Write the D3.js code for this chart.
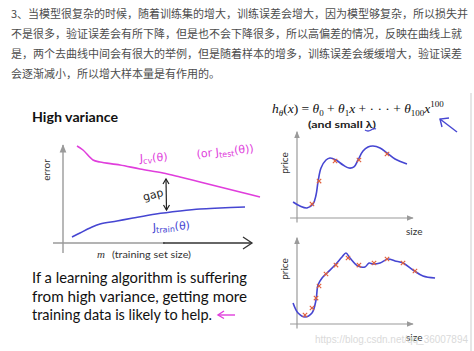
<!DOCTYPE html>
<html><head><meta charset="utf-8">
<script src="https://cdn.jsdelivr.net/npm/d3@7/dist/d3.min.js"></script>
<style>html,body{margin:0;padding:0;background:#fff;overflow:hidden}</style>
</head><body>
<script>
// ---------- data ----------
const paragraphLines = [
  "3、当模型很复杂的时候，随着训练集的增大，训练误差会增大，因为模型够复杂，所以损失并",
  "不是很多，验证误差会有所下降，但是也不会下降很多，所以高偏差的情况，反映在曲线上就",
  "是，两个去曲线中间会有很大的举例，但是随着样本的增多，训练误差会缓缓增大，验证误差",
  "会逐渐减小，所以增大样本量是有作用的。"
];
const slideTitle = "High variance";
const bodyLines = [
  "If a learning algorithm is suffering",
  "from high variance, getting more",
  "training data is likely to help."
];
// learning curves (m = training set size, error)
const cvM    = [7, 10, 15, 18.5, 28.5, 38.5, 50, 58.5, 68.5, 78.5, 88.5, 98.5];
const cvErr  = [97, 93, 83, 81, 78, 74, 70, 66, 61, 56, 51, 46];
const trainM   = [4.5, 8.5, 13.5, 18.5, 27, 35, 46.5, 58.5, 68.5, 78.5, 91];
const trainErr = [6, 10, 15, 19, 22, 25, 29, 32, 34, 35, 36];
const gapM = 51.5, gapTop = 64, gapBottom = 33;
// top-right overfit curve (size, price)
const fit1Size  = [-3.4, 2.6, 8.6, 13.8, 16.4, 18.1, 20.7, 25, 28.4, 33.6, 39.7, 44.8, 49.1, 52.6, 56.9, 61.2, 65.5, 71.6, 77.6, 84.5, 94.8];
const fit1Price = [18.2, 13.6, 11.4, 15.9, 26.1, 40.9, 56.8, 65.9, 68.2, 65.9, 60.2, 56.8, 58, 65.9, 76.1, 80.7, 81.8, 79.5, 73.9, 67, 61.4];
const pts1Size  = [12.9, 19, 32.8, 53.4, 77.6];
const pts1Price = [15.9, 42, 64.8, 65.9, 72.7];
// bottom-right curve with more data
const fit2Size  = [-3.4, 0.9, 6.9, 12.9, 16.4, 18.1, 21.6, 25.9, 32.8, 38.8, 42.2, 45.7, 52.6, 58.6, 62.1, 65.5, 71.6, 78.4, 84.5, 91.4, 100, 108.6, 119];
const fit2Price = [23.9, 12.5, 8, 12.5, 27.3, 44.3, 52.3, 58, 67, 76.1, 80.7, 75, 65.9, 64.8, 69.3, 68.2, 69.3, 73.9, 71.6, 69.3, 61.4, 54.5, 52.3];
const pts2Size  = [6.9, 12.9, 16.4, 19, 25, 33.6, 44, 53.4, 66.4, 77.6, 91.4, 101.7];
const pts2Price = [10.2, 18.2, 29.5, 43.2, 56.8, 67, 75, 67, 69.3, 73.9, 69.3, 60.2];
const watermark = "https://blog.csdn.net/qq_36007894";

// ---------- drawing ----------
const W = 474, H = 351;
const MAG = "#e03edc", BLUE = "#4646d2", RED = "#e0603c", AX = "#9a9a9a";
const svg = d3.select("body").append("svg").attr("width", W).attr("height", H);

const defs = svg.append("defs");
defs.append("marker").attr("id","tri").attr("viewBox","0 0 10 10").attr("refX",9).attr("refY",5)
  .attr("markerWidth",6).attr("markerHeight",6).attr("orient","auto-start-reverse")
  .append("path").attr("d","M0,1 L10,5 L0,9 Z").attr("fill",AX);

// paragraph
const para = svg.append("g").attr("font-family","'Noto Sans CJK SC'").attr("font-size",11).attr("fill","#4d4d4d");
paragraphLines.forEach((t,i)=>{
  para.append("text").attr("x",11).attr("y",18+i*20).text(t);
});

// slide right border
svg.append("line").attr("x1",471).attr("x2",471).attr("y1",93).attr("y2",H).attr("stroke","#d6d6d6").attr("stroke-width",1.2);

// title
svg.append("text").attr("x",32).attr("y",122).attr("font-family","Lato").attr("font-weight","bold")
  .attr("font-size",13.5).attr("fill","#111").attr("textLength",86).attr("lengthAdjust","spacingAndGlyphs").text(slideTitle);

// ---- left learning-curve chart ----
const xL = d3.scaleLinear().domain([0,100]).range([63,263]);
const yL = d3.scaleLinear().domain([0,100]).range([243,143]);
const gL = svg.append("g");
gL.append("line").attr("x1",xL(0)).attr("x2",xL(0)).attr("y1",yL(-10)).attr("y2",yL(98))
  .attr("stroke",AX).attr("stroke-width",1.4).attr("marker-end","url(#tri)");
gL.append("line").attr("x1",xL(-5)).attr("x2",xL(51)).attr("y1",yL(0)).attr("y2",yL(0))
  .attr("stroke",AX).attr("stroke-width",1.6);
gL.append("line").attr("x1",xL(50)).attr("x2",xL(94.5)).attr("y1",yL(0)).attr("y2",yL(0))
  .attr("stroke","#333").attr("stroke-width",1.4);
gL.append("path").attr("d",d3.line()([[xL(90),yL(6)],[xL(94.5),yL(0)],[xL(90),yL(-6)]]))
  .attr("fill","none").attr("stroke","#333").attr("stroke-width",1.3);

const lineL = d3.line().x(d=>xL(d[0])).y(d=>yL(d[1])).curve(d3.curveCatmullRom.alpha(0.5));
gL.append("path").attr("d",lineL(d3.zip(cvM,cvErr))).attr("fill","none").attr("stroke",MAG).attr("stroke-width",1.6);
gL.append("path").attr("d",lineL(d3.zip(trainM,trainErr))).attr("fill","none").attr("stroke",BLUE).attr("stroke-width",1.6);

// gap arrow
const gx = xL(gapM);
gL.append("line").attr("x1",gx).attr("x2",gx+0.5).attr("y1",yL(gapTop)).attr("y2",yL(gapBottom)).attr("stroke","#222").attr("stroke-width",1.2);
gL.append("path").attr("d",d3.line()([[gx-3,yL(gapTop)+5],[gx,yL(gapTop)],[gx+3,yL(gapTop)+5]])).attr("fill","none").attr("stroke","#222").attr("stroke-width",1.2);
gL.append("path").attr("d",d3.line()([[gx-2.5,yL(gapBottom)-5],[gx+0.5,yL(gapBottom)],[gx+3.5,yL(gapBottom)-5]])).attr("fill","none").attr("stroke","#222").attr("stroke-width",1.2);
gL.append("text").attr("x",143).attr("y",199).attr("font-family","'DejaVu Sans'").attr("font-size",11)
  .attr("fill","#222").attr("transform","rotate(-15,151,196)").text("gap");

// handwritten labels
const hand = "'DejaVu Sans'";
const jcv = gL.append("text").attr("x",140).attr("y",162).attr("font-family",hand).attr("font-size",11).attr("fill",MAG).attr("transform","rotate(-3,140,162)");
jcv.append("tspan").text("J");
jcv.append("tspan").attr("font-size",8).attr("dy",2).text("cv");
jcv.append("tspan").attr("dy",-2).text("(θ)");
const jts = gL.append("text").attr("x",197).attr("y",158).attr("font-family",hand).attr("font-size",11).attr("fill",MAG).attr("transform","rotate(-6,197,158)");
jts.append("tspan").text("(or J");
jts.append("tspan").attr("font-size",8).attr("dy",2).text("test");
jts.append("tspan").attr("dy",-2).text("(θ))");
const jtr = gL.append("text").attr("x",153).attr("y",231).attr("font-family",hand).attr("font-size",11).attr("fill",BLUE).attr("transform","rotate(-3,153,231)");
jtr.append("tspan").text("J");
jtr.append("tspan").attr("font-size",8).attr("dy",2).text("train");
jtr.append("tspan").attr("dy",-2).text("(θ)");

// axis labels
gL.append("text").attr("transform","translate(50,170) rotate(-90)").attr("text-anchor","middle")
  .attr("font-family","Lato").attr("font-size",10).attr("fill","#333").text("error");
gL.append("text").attr("x",97).attr("y",258).attr("font-family","'Liberation Serif'").attr("font-style","italic")
  .attr("font-size",11).attr("fill","#333").text("m");
gL.append("text").attr("x",112).attr("y",258).attr("font-family","Lato").attr("font-size",10)
  .attr("fill","#333").attr("textLength",79).attr("lengthAdjust","spacingAndGlyphs").text("(training set size)");

// body text
const bodyW = [215, 215, 180];
bodyLines.forEach((t,i)=>{
  svg.append("text").attr("x",32).attr("y",283+i*18.5).attr("font-family","Lato").attr("font-size",15)
    .attr("fill","#111").attr("textLength",bodyW[i]).attr("lengthAdjust","spacingAndGlyphs").text(t);
});
// magenta arrow after "help."
svg.append("path").attr("d",d3.line()([[235,315],[218,315]])).attr("stroke",MAG).attr("stroke-width",1.4).attr("fill","none");
svg.append("path").attr("d",d3.line()([[224,311],[218,315],[224,318.5]])).attr("stroke",MAG).attr("stroke-width",1.4).attr("fill","none");

// ---- formula ----
const fm = svg.append("text").attr("x",272).attr("y",113).attr("font-family","'Liberation Serif'").attr("font-size",13.5).attr("fill","#111");
fm.append("tspan").attr("font-style","italic").text("h");
fm.append("tspan").attr("font-style","italic").attr("font-size",9).attr("dy",2.5).text("θ");
fm.append("tspan").attr("dy",-2.5).text("(");
fm.append("tspan").attr("font-style","italic").text("x");
fm.append("tspan").text(") = ");
fm.append("tspan").attr("font-style","italic").text("θ");
fm.append("tspan").attr("font-size",9).attr("dy",2.5).text("0");
fm.append("tspan").attr("dy",-2.5).text(" + ");
fm.append("tspan").attr("font-style","italic").text("θ");
fm.append("tspan").attr("font-size",9).attr("dy",2.5).text("1");
fm.append("tspan").attr("font-style","italic").attr("dy",-2.5).text("x");
fm.append("tspan").text(" + · · · + ");
fm.append("tspan").attr("font-style","italic").text("θ");
fm.append("tspan").attr("font-size",9).attr("dy",2.5).text("100");
fm.append("tspan").attr("font-style","italic").attr("dy",-2.5).text("x");
fm.append("tspan").attr("font-size",9).attr("dy",-6).text("100");

svg.append("text").attr("x",308).attr("y",128).attr("font-family","Lato").attr("font-weight","bold")
  .attr("font-size",10).attr("fill","#222").attr("textLength",68).attr("lengthAdjust","spacingAndGlyphs").text("(and small λ)");
svg.append("path").attr("d","M365,130 Q368,132 371,130 T376,129").attr("stroke",BLUE).attr("stroke-width",1.3).attr("fill","none");
// blue arrow pointing at formula
svg.append("path").attr("d",d3.line()([[457,132],[440,119]])).attr("stroke",BLUE).attr("stroke-width",1.4).attr("fill","none");
svg.append("path").attr("d",d3.line()([[449,118],[440,119],[442,127]])).attr("stroke",BLUE).attr("stroke-width",1.4).attr("fill","none");

// ---- right panels ----
const xR = d3.scaleLinear().domain([0,100]).range([297,413]);
function panel(oy, fx, fy, px, py) {
  const yR = d3.scaleLinear().domain([0,100]).range([oy, oy-88]);
  const g = svg.append("g");
  g.append("line").attr("x1",xR(0)).attr("x2",xR(0)).attr("y1",yR(-5)).attr("y2",yR(98))
    .attr("stroke",AX).attr("stroke-width",1.2).attr("marker-end","url(#tri)");
  g.append("line").attr("x1",xR(-6)).attr("x2",xR(100)).attr("y1",yR(0)).attr("y2",yR(0))
    .attr("stroke",AX).attr("stroke-width",1.2).attr("marker-end","url(#tri)");
  const ln = d3.line().x(d=>xR(d[0])).y(d=>yR(d[1])).curve(d3.curveCatmullRom.alpha(0.5));
  g.append("path").attr("d",ln(d3.zip(fx,fy))).attr("fill","none").attr("stroke",BLUE).attr("stroke-width",1.6);
  d3.zip(px,py).forEach(([a,b])=>{
    const cx = xR(a), cy = yR(b), s = 2.2;
    g.append("path").attr("d",`M${cx-s},${cy-s}L${cx+s},${cy+s}M${cx-s},${cy+s}L${cx+s},${cy-s}`)
      .attr("stroke",RED).attr("stroke-width",1.1);
  });
  g.append("text").attr("transform",`translate(288,${oy-55}) rotate(-90)`).attr("text-anchor","middle")
    .attr("font-family","Lato").attr("font-size",10).attr("fill","#333").text("price");
  g.append("text").attr("x",406).attr("y",oy+17).attr("font-family","Lato").attr("font-size",10).attr("fill","#333").text("size");
}
panel(218, fit1Size, fit1Price, pts1Size, pts1Price);
panel(324, fit2Size, fit2Price, pts2Size, pts2Price);

// watermark
svg.append("text").attr("x",315).attr("y",343).attr("font-family","'Liberation Sans'").attr("font-size",10)
  .attr("fill","#dadada").attr("textLength",153).attr("lengthAdjust","spacingAndGlyphs").text(watermark);
</script>
</body></html>
